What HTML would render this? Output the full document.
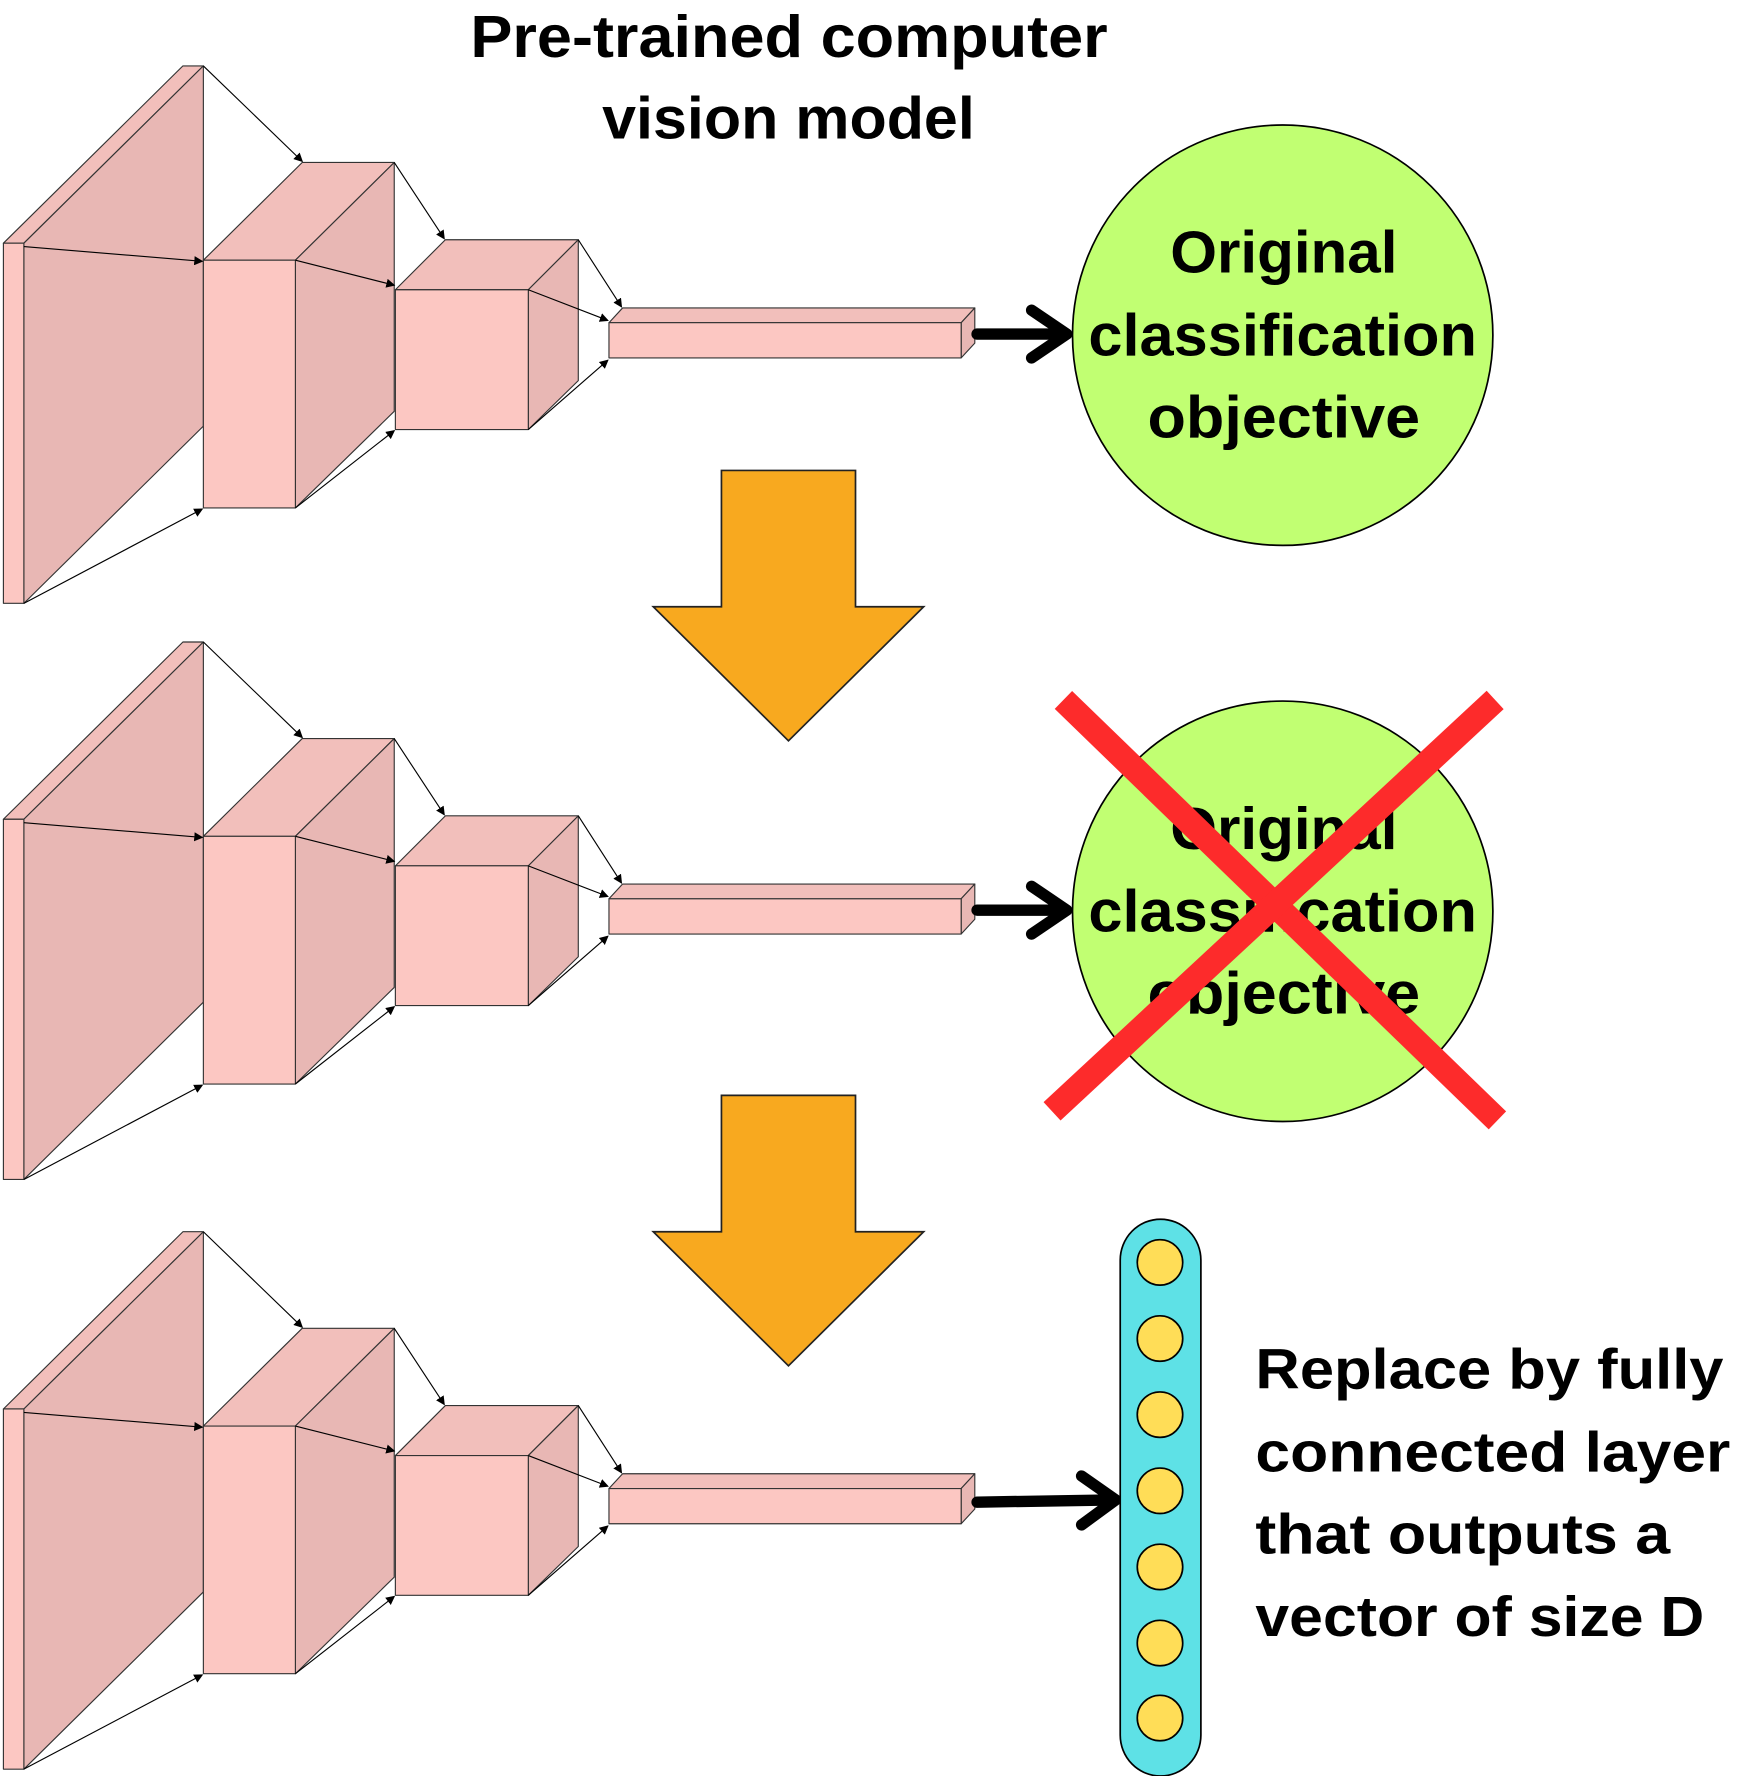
<!DOCTYPE html>
<html><head><meta charset="utf-8"><style>html,body{margin:0;padding:0;background:#fff}svg{display:block}</style></head>
<body>
<svg width="1761" height="1776" viewBox="0 0 1550 1563" preserveAspectRatio="none" xmlns="http://www.w3.org/2000/svg">
<defs>
<marker id="ah" markerWidth="8" markerHeight="8" refX="7" refY="4" orient="auto" markerUnits="userSpaceOnUse"><path d="M0,0 L8,4 L0,8 Z" fill="#000"/></marker>
<g id="net" stroke="#333" stroke-width="1" stroke-linejoin="round">
  <!-- plate -->
  <polygon points="3,214 21,214 179,58 161,58" fill="#f2bfbb"/>
  <polygon points="21,214 179,58 179,375 21,531" fill="#e8b7b4"/>
  <rect x="3" y="214" width="18" height="317" fill="#fcc7c2"/>
  <!-- box2 -->
  <polygon points="179,229 260,229 347,143 266,143" fill="#f2bfbb"/>
  <polygon points="260,229 347,143 347,362 260,447" fill="#e8b7b4"/>
  <rect x="179" y="229" width="81" height="218" fill="#fcc7c2"/>
  <!-- box3 -->
  <polygon points="348,255 465,255 509,211 392,211" fill="#f2bfbb"/>
  <polygon points="465,255 509,211 509,335 465,378" fill="#e8b7b4"/>
  <rect x="348" y="255" width="117" height="123" fill="#fcc7c2"/>
  <!-- bar -->
  <polygon points="536,284 846,284 858,271 548,271" fill="#f2bfbb"/>
  <polygon points="846,284 858,271 858,302 846,315" fill="#e8b7b4"/>
  <rect x="536" y="284" width="310" height="31" fill="#fcc7c2"/>
  <g stroke="#000" stroke-width="1" fill="none" marker-end="url(#ah)">
    <line x1="179" y1="58" x2="266" y2="142"/>
    <line x1="21" y1="217" x2="178" y2="230"/>
    <line x1="21" y1="531" x2="178" y2="448"/>
    <line x1="347" y1="143" x2="391" y2="210"/>
    <line x1="260" y1="229" x2="347" y2="251"/>
    <line x1="260" y1="447" x2="347" y2="379"/>
    <line x1="509" y1="211" x2="547" y2="270"/>
    <line x1="465" y1="255" x2="535" y2="282"/>
    <line x1="465" y1="378" x2="535" y2="317"/>
  </g>
</g>
</defs>
<use href="#net"/>
<use href="#net" y="507"/>
<use href="#net" y="1026"/>

<g font-family="Liberation Sans, sans-serif" font-weight="bold" fill="#000" font-size="52">
  <text x="414" y="50" textLength="561" lengthAdjust="spacingAndGlyphs">Pre-trained computer</text>
  <text x="530" y="122" textLength="328" lengthAdjust="spacingAndGlyphs">vision model</text>
</g>

<!-- orange arrows -->
<polygon points="635,414 753,414 753,534 813,534 694,652 575,534 635,534" fill="#f8a91f" stroke="#222" stroke-width="1.5"/>
<polygon points="635,964 753,964 753,1084 813,1084 694,1202 575,1084 635,1084" fill="#f8a91f" stroke="#222" stroke-width="1.5"/>

<!-- thick arrows -->
<g stroke="#000" stroke-width="10" stroke-linecap="round" stroke-linejoin="round" fill="none">
  <line x1="860" y1="294" x2="938" y2="294"/><polyline points="908,273 939,294 908,315"/>
  <line x1="860" y1="801" x2="938" y2="801"/><polyline points="908,780 939,801 908,822"/>
  <line x1="860" y1="1322" x2="980" y2="1320"/><polyline points="952,1299 982,1320 952,1342"/>
</g>

<!-- circles -->
<circle cx="1129" cy="295" r="185" fill="#c1ff72" stroke="#000" stroke-width="1.5"/>
<circle cx="1129" cy="802" r="185" fill="#c1ff72" stroke="#000" stroke-width="1.5"/>
<g font-family="Liberation Sans, sans-serif" font-weight="bold" fill="#000" font-size="52">
  <text x="1030" y="240" textLength="200" lengthAdjust="spacingAndGlyphs">Original</text>
  <text x="958" y="313" textLength="342" lengthAdjust="spacingAndGlyphs">classification</text>
  <text x="1010" y="385" textLength="240" lengthAdjust="spacingAndGlyphs">objective</text>
  <text x="1030" y="747" textLength="200" lengthAdjust="spacingAndGlyphs">Original</text>
  <text x="958" y="820" textLength="342" lengthAdjust="spacingAndGlyphs">classification</text>
  <text x="1010" y="892" textLength="240" lengthAdjust="spacingAndGlyphs">objective</text>
</g>
<g stroke="#fd2b2b" stroke-width="22">
  <line x1="936" y1="616" x2="1318" y2="986"/>
  <line x1="1316" y1="616" x2="926" y2="978"/>
</g>

<!-- FC layer -->
<rect x="986" y="1073" width="71" height="490" rx="35.5" ry="36" fill="#5ee1e6" stroke="#000" stroke-width="1.5"/>
<g fill="#ffdd57" stroke="#000" stroke-width="1.5">
  <ellipse cx="1021" cy="1111" rx="20" ry="20"/>
  <ellipse cx="1021" cy="1178" rx="20" ry="20"/>
  <ellipse cx="1021" cy="1245" rx="20" ry="20"/>
  <ellipse cx="1021" cy="1312" rx="20" ry="20"/>
  <ellipse cx="1021" cy="1379" rx="20" ry="20"/>
  <ellipse cx="1021" cy="1446" rx="20" ry="20"/>
  <ellipse cx="1021" cy="1512" rx="20" ry="20"/>
</g>
<g font-family="Liberation Sans, sans-serif" font-weight="bold" fill="#000" font-size="50">
  <text x="1105" y="1222" textLength="412" lengthAdjust="spacingAndGlyphs">Replace by fully</text>
  <text x="1105" y="1295" textLength="418" lengthAdjust="spacingAndGlyphs">connected layer</text>
  <text x="1105" y="1367" textLength="365" lengthAdjust="spacingAndGlyphs">that outputs a</text>
  <text x="1105" y="1440" textLength="395" lengthAdjust="spacingAndGlyphs">vector of size D</text>
</g>
</svg>
</body></html>
